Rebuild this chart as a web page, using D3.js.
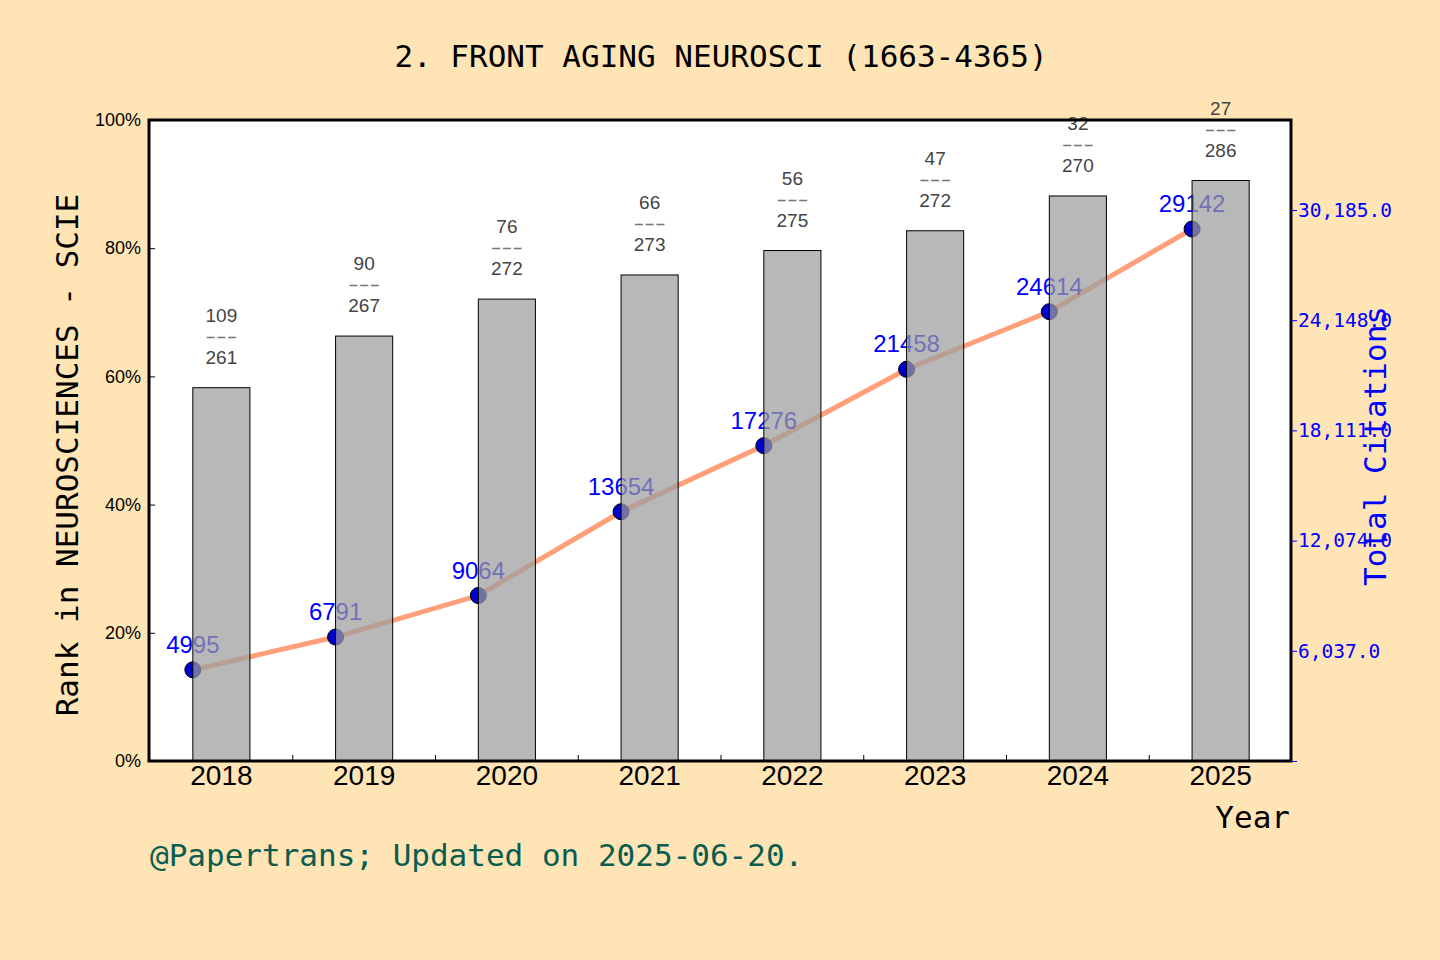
<!DOCTYPE html>
<html>
<head>
<meta charset="utf-8">
<script src="https://cdn.jsdelivr.net/npm/d3@7"></script>
<style>
  body { margin: 0; background: #FFE4B5; }
  svg { display: block; }
</style>
</head>
<body>
<div id="chart"></div>
<script>
// data
const years = ["2018", "2019", "2020", "2021", "2022", "2023", "2024", "2025"];
const ranks = [109, 90, 76, 66, 56, 47, 32, 27];
const totals = [261, 267, 272, 273, 275, 272, 270, 286];
const citations = [4995, 6791, 9064, 13654, 17276, 21458, 24614, 29142];
const pctTicks = [0, 0.2, 0.4, 0.6, 0.8, 1];
const citeTicks = [0, 6037, 12074, 18111, 24148, 30185];
const citeMax = 35115;

const mono = "'DejaVu Sans Mono', monospace";
const sans = "'Liberation Sans', Arial, sans-serif";

const W = 1440, H = 960;
const plot = { left: 149, right: 1291, top: 120, bottom: 761 };

const svg = d3.select("#chart").append("svg")
    .attr("width", W)
    .attr("height", H);

svg.append("rect")
    .attr("width", W).attr("height", H)
    .attr("fill", "#FFE4B5");

const x = d3.scaleBand().domain(years).range([plot.left + 1, plot.right + 1]).padding(0);
const y = d3.scaleLinear().domain([0, 1]).range([plot.bottom, plot.top]);
const y2 = d3.scaleLinear().domain([0, citeMax]).range([plot.bottom, plot.top]);

const bw = x.bandwidth() * 0.4;
const barX = d => x(d) + x.bandwidth() * 0.3;

const rows = years.map((yr, i) => ({
    year: yr,
    rank: ranks[i],
    total: totals[i],
    pct: 1 - ranks[i] / totals[i],
    cite: citations[i]
}));

// plot background
svg.append("rect")
    .attr("x", plot.left).attr("y", plot.top)
    .attr("width", plot.right - plot.left)
    .attr("height", plot.bottom - plot.top)
    .attr("fill", "#fff");

// citations line
const line = d3.line()
    .x(d => barX(d.year))
    .y(d => y2(d.cite));

svg.append("path")
    .datum(rows)
    .attr("d", line)
    .attr("fill", "none")
    .attr("stroke", "#FFA07A")
    .attr("stroke-width", 5);

svg.selectAll(".dot")
    .data(rows)
    .enter()
    .append("circle")
    .attr("class", "dot")
    .attr("cx", d => barX(d.year))
    .attr("cy", d => y2(d.cite))
    .attr("r", 8)
    .attr("fill", "#0000CD")
    .attr("stroke", "#000")
    .attr("stroke-width", 1);

svg.selectAll(".cite-label")
    .data(rows)
    .enter()
    .append("text")
    .attr("class", "cite-label")
    .attr("x", d => barX(d.year))
    .attr("y", d => y2(d.cite) - 17)
    .attr("text-anchor", "middle")
    .style("font-family", sans)
    .style("font-size", "24px")
    .attr("fill", "#0000FF")
    .text(d => d.cite);

// bars sit on top, semi transparent
svg.selectAll(".bar")
    .data(rows)
    .enter()
    .append("rect")
    .attr("class", "bar")
    .attr("x", d => barX(d.year))
    .attr("y", d => y(d.pct))
    .attr("width", bw)
    .attr("height", d => plot.bottom - y(d.pct))
    .attr("fill", "rgba(156,156,156,0.72)")
    .attr("stroke", "#000")
    .attr("stroke-width", 1);

const lab = svg.selectAll(".bar-label")
    .data(rows)
    .enter()
    .append("g")
    .attr("class", "bar-label")
    .attr("transform", d => `translate(${x(d.year) + x.bandwidth() / 2},${y(d.pct)})`)
    .style("font-family", sans)
    .style("font-size", "19px")
    .attr("fill", "#444");

lab.append("text").attr("y", -66).attr("text-anchor", "middle").text(d => d.rank);
lab.append("text")
    .attr("transform", "translate(0,-45) scale(1.7,1)")
    .attr("text-anchor", "middle")
    .attr("fill", "#777").text("---");
lab.append("text").attr("y", -24).attr("text-anchor", "middle").text(d => d.total);

// frame
svg.append("rect")
    .attr("x", plot.left).attr("y", plot.top)
    .attr("width", plot.right - plot.left)
    .attr("height", plot.bottom - plot.top)
    .attr("fill", "none")
    .attr("stroke", "#000")
    .attr("stroke-width", 3);

// left axis
const yAxis = svg.append("g")
    .attr("transform", `translate(${plot.left},0)`)
    .call(d3.axisLeft(y).tickValues(pctTicks).tickFormat(d3.format(".0%")).tickSize(-6).tickPadding(8));
yAxis.select(".domain").remove();
yAxis.selectAll("text")
    .style("font-family", sans)
    .style("font-size", "18px")
    .attr("fill", "#000");

// right axis
const y2Axis = svg.append("g")
    .attr("transform", `translate(${plot.right},0)`)
    .call(d3.axisRight(y2).tickValues(citeTicks)
        .tickFormat(d => d ? d3.format(",.1f")(d) : "")
        .tickSize(6).tickPadding(1));
y2Axis.select(".domain").remove();
y2Axis.selectAll("line").attr("stroke", "#0000FF");
y2Axis.selectAll("text")
    .style("font-family", mono)
    .style("font-size", "19.5px")
    .attr("fill", "#0000FF");

// bottom axis labels
const xAxis = svg.append("g")
    .attr("transform", `translate(0,${plot.bottom})`)
    .call(d3.axisBottom(x).tickSize(0).tickPadding(4));
xAxis.select(".domain").remove();
xAxis.selectAll("text")
    .style("font-family", sans)
    .style("font-size", "28px")
    .attr("fill", "#000");

// minor ticks between categories
svg.selectAll(".minor")
    .data(years.slice(1))
    .enter()
    .append("line")
    .attr("class", "minor")
    .attr("x1", d => x(d)).attr("x2", d => x(d))
    .attr("y1", plot.bottom).attr("y2", plot.bottom - 6)
    .attr("stroke", "#000");

// titles
svg.append("text")
    .attr("x", 721).attr("y", 67)
    .attr("text-anchor", "middle")
    .style("font-family", mono)
    .style("font-size", "31px")
    .attr("fill", "#000")
    .text("2. FRONT AGING NEUROSCI (1663-4365)");

svg.append("text")
    .attr("transform", "translate(78,455) rotate(-90)")
    .attr("text-anchor", "middle")
    .style("font-family", mono)
    .style("font-size", "31px")
    .attr("fill", "#000")
    .text("Rank in NEUROSCIENCES - SCIE");

svg.append("text")
    .attr("transform", "translate(1386,446) rotate(-90)")
    .attr("text-anchor", "middle")
    .style("font-family", mono)
    .style("font-size", "31px")
    .attr("fill", "#0000FF")
    .text("Total Citations");

svg.append("text")
    .attr("x", 1290).attr("y", 828)
    .attr("text-anchor", "end")
    .style("font-family", mono)
    .style("font-size", "31px")
    .attr("fill", "#000")
    .text("Year");

svg.append("text")
    .attr("x", 150).attr("y", 866)
    .style("font-family", mono)
    .style("font-size", "31px")
    .attr("fill", "#0a5c4f")
    .text("@Papertrans; Updated on 2025-06-20.");
</script>
</body>
</html>
